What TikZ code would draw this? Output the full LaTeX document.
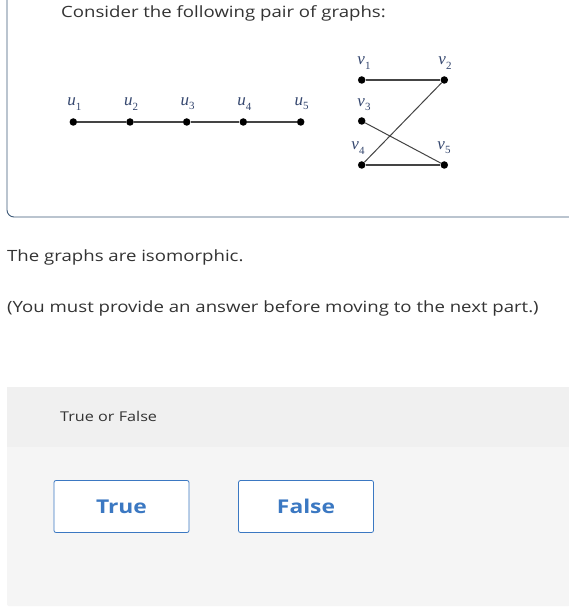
\documentclass[tikz,border=0pt]{standalone}
\usepackage{fontspec}
\setmainfont[FakeStretch=1.2]{Open Sans}
\newfontface\lblup{Liberation Serif}
\newfontface\lblit{Liberation Serif Italic}
\definecolor{boxline}{HTML}{3E5A78}
\definecolor{txt}{HTML}{333333}
\definecolor{lbl}{HTML}{34466E}
\definecolor{edgec}{HTML}{444444}
\definecolor{headbg}{HTML}{F0F0F0}
\definecolor{panelbg}{HTML}{F5F5F5}
\definecolor{btnblue}{HTML}{3B78C2}
\newcommand{\glab}[2]{{\lblit #1}\raisebox{-0.25em}{\lblup\fontsize{11}{12}\selectfont #2}}
\begin{document}
\begin{tikzpicture}[x=1pt,y=-1pt,
  vtx/.style={circle,fill=black,inner sep=0pt,minimum size=7.5pt},
  edg/.style={draw=edgec,line width=1.3pt},
  lab/.style={text=lbl,font=\fontsize{17}{19}\selectfont,inner sep=0pt},
  btn/.style={draw=btnblue,fill=white,rounded corners=2pt,line width=0.8pt,minimum width=135pt,minimum height=52pt,text=btnblue,font=\fontsize{19}{22}\selectfont\bfseries},
  plain/.style={text=txt,anchor=west,inner sep=0pt}]
\useasboundingbox (0,0) rectangle (568,609);
\fill[white] (0,0) rectangle (568,609);
% top box
\draw[boxline,line width=0.9pt,rounded corners=7pt] (7,-20) rectangle (600,217);
\node[plain,font=\fontsize{15.5}{19}\selectfont] (title) at (61,13) {Consider the following pair of graphs:};
% graph u
\foreach \i/\x in {1/73.3,2/130,3/186.7,4/243.3,5/300.7}{
  \node[vtx] (u\i) at (\x,122) {};
  \node[lab] (lu\i) at (\x+1,104) {\glab{u}{\i}};
}
\draw[edg] (u1) -- (u2) -- (u3) -- (u4) -- (u5);
% graph v
\node[vtx] (v1) at (361.7,80) {};
\node[vtx] (v2) at (444.3,80) {};
\node[vtx] (v3) at (361.7,121) {};
\node[vtx] (v4) at (361.7,165) {};
\node[vtx] (v5) at (444.3,165) {};
\node[lab] (lv1) at (364,63) {\glab{v}{1}};
\node[lab] (lv2) at (445,63) {\glab{v}{2}};
\node[lab] (lv3) at (364,105) {\glab{v}{3}};
\node[lab] (lv4) at (358,148) {\glab{v}{4}};
\node[lab] (lv5) at (444,148) {\glab{v}{5}};
\draw[edg] (v1) -- (v2);
\draw[edg,line width=1pt] (v2) -- (v4);
\draw[edg,line width=1pt] (v3) -- (v5);
\draw[edg] (v4) -- (v5);
% text lines
\node[plain,font=\fontsize{15.5}{19}\selectfont] (iso) at (7,257) {The graphs are isomorphic.};
\node[plain,font=\fontsize{15.5}{19}\selectfont] (note) at (7,308) {(You must provide an answer before moving to the next part.)};
% answer panel
\fill[panelbg,rounded corners=2pt] (7,387) rectangle (600,606);
\fill[headbg] (7,387) rectangle (600,447);
\node[plain,font=\fontsize{13.5}{16}\selectfont] (tf) at (60,416) {True or False};
\node[btn] (bt) at (121.5,506.5) {True};
\node[btn] (bf) at (306,506.5) {False};
\end{tikzpicture}
\end{document}
